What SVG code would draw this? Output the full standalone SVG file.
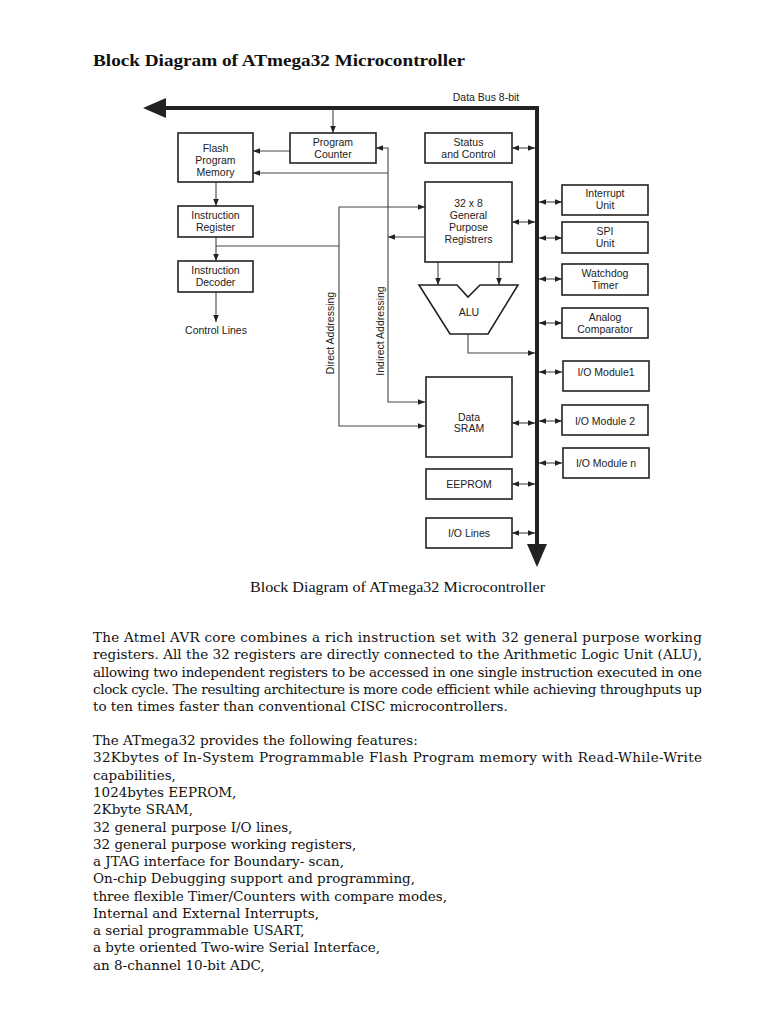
<svg xmlns="http://www.w3.org/2000/svg" width="768" height="1024" viewBox="0 0 768 1024">
<style>
.box{fill:#fff;stroke:#222;stroke-width:1.6}
.ln{fill:none;stroke:#444;stroke-width:1.1}
.t{font-family:"Liberation Sans",Arial,sans-serif;font-size:10.5px;fill:#222;text-anchor:middle}
.body{font-family:"DejaVu Serif","Liberation Serif",serif;font-size:13.5px;fill:#111}
</style>
<defs>
<marker id="a" viewBox="0 0 10 10" refX="10" refY="5" markerWidth="7" markerHeight="7" markerUnits="userSpaceOnUse" orient="auto-start-reverse">
<path d="M0,1 L10,5 L0,9 z" fill="#222"/>
</marker>
</defs>
<rect width="768" height="1024" fill="#fff"/>

<text x="93" y="66" font-family="Liberation Serif,serif" font-weight="bold" font-size="17" textLength="372" lengthAdjust="spacingAndGlyphs" fill="#111">Block Diagram of ATmega32 Microcontroller</text>

<g id="bus">
<polyline points="163,108 537,108 537,548" fill="none" stroke="#222" stroke-width="4"/>
<polygon points="143,108 166,98 166,118" fill="#222"/>
<polygon points="537,567 527,544 547,544" fill="#222"/>
<text x="486" y="101" class="t" font-size="10">Data Bus 8-bit</text>
</g>

<g id="connectors">
<line class="ln" x1="333" y1="109" x2="333" y2="133" marker-end="url(#a)"/>
<line class="ln" x1="290" y1="151" x2="253" y2="151" marker-end="url(#a)"/>
<line class="ln" x1="216" y1="182" x2="216" y2="206" marker-end="url(#a)"/>
<line class="ln" x1="216" y1="237" x2="216" y2="261" marker-end="url(#a)"/>
<line class="ln" x1="216" y1="292" x2="216" y2="322" marker-end="url(#a)"/>
<polyline class="ln" points="216,246 339,246"/>
<polyline class="ln" points="425,402 388,402 388,148 376,148" marker-start="url(#a)" marker-end="url(#a)"/>
<line class="ln" x1="388" y1="173" x2="253" y2="173" marker-end="url(#a)"/>
<line class="ln" x1="425" y1="237" x2="388" y2="237" marker-end="url(#a)"/>
<polyline class="ln" points="425,207 339,207 339,426 425,426" marker-start="url(#a)" marker-end="url(#a)"/>
<line class="ln" x1="438" y1="262" x2="438" y2="285" marker-end="url(#a)"/>
<line class="ln" x1="499" y1="262" x2="499" y2="285" marker-end="url(#a)"/>
<polyline class="ln" points="468,334 468,353 535,353" marker-end="url(#a)"/>
<line class="ln" x1="512" y1="148" x2="535" y2="148" marker-start="url(#a)" marker-end="url(#a)"/>
<line class="ln" x1="512" y1="222" x2="535" y2="222" marker-start="url(#a)" marker-end="url(#a)"/>
<line class="ln" x1="512" y1="423" x2="535" y2="423" marker-start="url(#a)" marker-end="url(#a)"/>
<line class="ln" x1="512" y1="484" x2="535" y2="484" marker-start="url(#a)" marker-end="url(#a)"/>
<line class="ln" x1="512" y1="533" x2="535" y2="533" marker-start="url(#a)" marker-end="url(#a)"/>
<line class="ln" x1="539" y1="202" x2="562" y2="202" marker-start="url(#a)" marker-end="url(#a)"/>
<line class="ln" x1="539" y1="238" x2="562" y2="238" marker-start="url(#a)" marker-end="url(#a)"/>
<line class="ln" x1="539" y1="279" x2="562" y2="279" marker-start="url(#a)" marker-end="url(#a)"/>
<line class="ln" x1="539" y1="323" x2="562" y2="323" marker-start="url(#a)" marker-end="url(#a)"/>
<line class="ln" x1="539" y1="372" x2="562" y2="372" marker-start="url(#a)" marker-end="url(#a)"/>
<line class="ln" x1="539" y1="421" x2="562" y2="421" marker-start="url(#a)" marker-end="url(#a)"/>
<line class="ln" x1="539" y1="463" x2="562" y2="463" marker-start="url(#a)" marker-end="url(#a)"/>
<text class="t" transform="translate(334,333) rotate(-90)">Direct Addressing</text>
<text class="t" transform="translate(384,331) rotate(-90)">Indirect Addressing</text>
<text class="t" x="216" y="334">Control Lines</text>
</g>

<g id="pc"><rect class="box" x="290" y="133" width="86" height="30"/><text class="t" x="333" y="146">Program</text><text class="t" x="333" y="158">Counter</text></g>
<g id="flash"><rect class="box" x="178" y="133" width="75" height="49"/><text class="t" x="215.5" y="152">Flash</text><text class="t" x="215.5" y="164">Program</text><text class="t" x="215.5" y="176">Memory</text></g>
<g id="ir"><rect class="box" x="178" y="206" width="75" height="31"/><text class="t" x="215.5" y="219">Instruction</text><text class="t" x="215.5" y="231">Register</text></g>
<g id="id"><rect class="box" x="178" y="261" width="75" height="31"/><text class="t" x="215.5" y="274">Instruction</text><text class="t" x="215.5" y="286">Decoder</text></g>
<g id="status"><rect class="box" x="425" y="133" width="87" height="30"/><text class="t" x="468.5" y="146">Status</text><text class="t" x="468.5" y="158">and Control</text></g>
<g id="regs"><rect class="box" x="425" y="182" width="87" height="80"/><text class="t" x="468.5" y="207">32 x 8</text><text class="t" x="468.5" y="219">General</text><text class="t" x="468.5" y="231">Purpose</text><text class="t" x="468.5" y="243">Registrers</text></g>
<g id="alu"><polygon class="box" points="419,285 457,285 468,297 480,285 518,285 488,334 450,334"/><text class="t" x="469" y="316">ALU</text></g>
<g id="sram"><rect class="box" x="426" y="377" width="86" height="80"/><text class="t" x="469" y="421">Data</text><text class="t" x="469" y="432">SRAM</text></g>
<g id="eeprom"><rect class="box" x="426" y="469" width="86" height="30"/><text class="t" x="469" y="488">EEPROM</text></g>
<g id="iolines"><rect class="box" x="426" y="518" width="86" height="30"/><text class="t" x="469" y="537">I/O Lines</text></g>
<g id="interrupt"><rect class="box" x="562" y="185" width="86" height="30"/><text class="t" x="605" y="197">Interrupt</text><text class="t" x="605" y="209">Unit</text></g>
<g id="spi"><rect class="box" x="562" y="222" width="86" height="31"/><text class="t" x="605" y="235">SPI</text><text class="t" x="605" y="247">Unit</text></g>
<g id="watchdog"><rect class="box" x="562" y="264" width="86" height="31"/><text class="t" x="605" y="277">Watchdog</text><text class="t" x="605" y="289">Timer</text></g>
<g id="analog"><rect class="box" x="562" y="308" width="86" height="30"/><text class="t" x="605" y="321">Analog</text><text class="t" x="605" y="333">Comparator</text></g>
<g id="io1"><rect class="box" x="563" y="361" width="86" height="30"/><text class="t" x="606" y="376">I/O Module1</text></g>
<g id="io2"><rect class="box" x="562" y="405" width="86" height="30"/><text class="t" x="605" y="425">I/O Module 2</text></g>
<g id="ion"><rect class="box" x="563" y="448" width="86" height="30"/><text class="t" x="606" y="467">I/O Module n</text></g>

<text x="250" y="592" font-family="Liberation Serif,serif" font-size="14" textLength="295" lengthAdjust="spacingAndGlyphs" fill="#111">Block Diagram of ATmega32 Microcontroller</text>

<g class="body">
<text x="93" y="642" textLength="609" lengthAdjust="spacing">The Atmel AVR core combines a rich instruction set with 32 general purpose working</text>
<text x="93" y="659" textLength="609" lengthAdjust="spacing">registers. All the 32 registers are directly connected to the Arithmetic Logic Unit (ALU),</text>
<text x="93" y="676.5" textLength="609" lengthAdjust="spacing">allowing two independent registers to be accessed in one single instruction executed in one</text>
<text x="93" y="694" textLength="609" lengthAdjust="spacing">clock cycle. The resulting architecture is more code efficient while achieving throughputs up</text>
<text x="93" y="711">to ten times faster than conventional CISC microcontrollers.</text>
<text x="93" y="745">The ATmega32 provides the following features:</text>
<text x="93" y="762" textLength="609" lengthAdjust="spacing">32Kbytes of In-System Programmable Flash Program memory with Read-While-Write</text>
<text x="93" y="780">capabilities,</text>
<text x="93" y="797">1024bytes EEPROM,</text>
<text x="93" y="814">2Kbyte SRAM,</text>
<text x="93" y="832">32 general purpose I/O lines,</text>
<text x="93" y="849">32 general purpose working registers,</text>
<text x="93" y="866">a JTAG interface for Boundary- scan,</text>
<text x="93" y="883">On-chip Debugging support and programming,</text>
<text x="93" y="901">three flexible Timer/Counters with compare modes,</text>
<text x="93" y="918">Internal and External Interrupts,</text>
<text x="93" y="935">a serial programmable USART,</text>
<text x="93" y="952">a byte oriented Two-wire Serial Interface,</text>
<text x="93" y="970">an 8-channel 10-bit ADC,</text>
</g>
</svg>
